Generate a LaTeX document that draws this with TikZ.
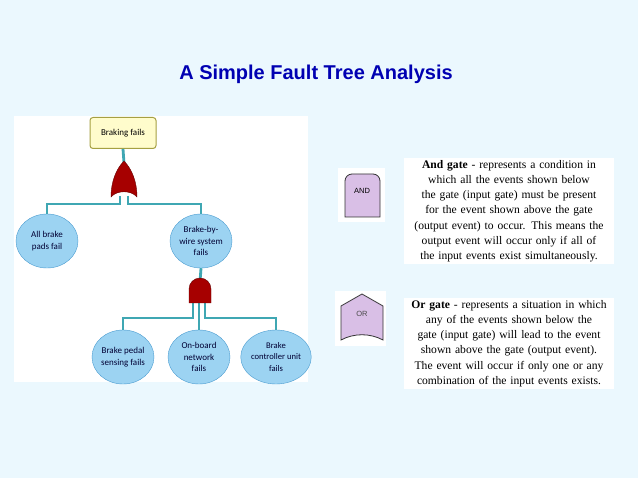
\documentclass[tikz,border=0pt]{standalone}
\usepackage{fontspec}
\setmainfont{Liberation Serif}
\newfontfamily\sansf{Liberation Sans}
\newfontfamily\carl{Carlito}
\usetikzlibrary{shapes.geometric}
\definecolor{evfill}{HTML}{9CD3F2}
\definecolor{evdraw}{HTML}{4A9CD0}
\definecolor{wirec}{HTML}{3FA7B3}
\begin{document}
\begin{tikzpicture}[x=1pt,y=-1pt,
  ev/.style={ellipse,draw=evdraw,fill=evfill,minimum width=62pt,minimum height=54pt,inner sep=0pt,align=center,font=\carl\fontsize{9}{11.5}\selectfont,text=blue!20!black},
  wire/.style={draw=wirec,line width=2.8pt},
  gatef/.style={fill=red!65!black,draw=red!40!black,line width=0.4pt},
  symb/.style={fill=blue!20!violet!25,draw=black!80,line width=0.8pt},
  desc/.style={fill=white,text width=206pt,align=center,inner sep=2pt,font=\fontsize{11.6}{15.2}\selectfont}]
\fill[cyan!8] (0,0) rectangle (638,478);
\useasboundingbox (0,0) rectangle (638,478);
\node[font=\sansf\bfseries\fontsize{20}{24}\selectfont,text=blue!70!black] (title) at (316,74) {A Simple Fault Tree Analysis};
\fill[white] (14,116) rectangle (308,382);
% nodes
\node[draw=yellow!60!black,fill=yellow!20,rounded corners=3pt,line width=1pt,minimum width=66pt,minimum height=31pt,font=\carl\fontsize{9}{11}\selectfont] (top) at (123,133) {Braking fails};
\coordinate (og) at (124,163);
\node[ev] (pads) at (47,241) {All brake\\pads fail};
\node[ev] (bbw) at (201,241) {Brake-by-\\wire system\\fails};
\node[ev] (ped) at (123,357) {Brake pedal\\sensing fails};
\node[ev] (net) at (199,357) {On-board\\network\\fails};
\node[ev,font=\carl\fontsize{8.6}{11.5}\selectfont] (ecu) at (276,357) {Brake\\controller unit\\fails};
% wires
\draw[wire] (top.south) -- (og);
\draw[wire] (120,196) -- (120,204) -| (pads.north);
\draw[wire] (128,196) -- (128,204) -| (bbw.north);
\draw[wire] (bbw.south) -- (200,282);
\draw[wire] (193,302) -- (193,318) -| (ped.north);
\draw[wire] (199,302) -- (net.north);
\draw[wire] (205,302) -- (205,318) -| (ecu.north);
% OR gate
\draw[gatef] (124,161) .. controls (132,169) and (137,182) .. (137,197) .. controls (131,190) and (117,190) .. (111,197) .. controls (111,182) and (116,169) .. (124,161) -- cycle;
% AND gate
\draw[gatef] (189,303) -- (189,289) arc[start angle=180,end angle=360,radius=11] -- (211,303) -- cycle;
% legend symbols
\fill[white] (338,168) rectangle (385,222);
\draw[symb] (345,217) -- (345,181) arc[start angle=180,end angle=270,radius=7] -- (373,174) arc[start angle=270,end angle=360,radius=7] -- (380,217) -- cycle;
\node[font=\sansf\fontsize{7.5}{8}\selectfont] (andl) at (362,191) {AND};
\fill[white] (335,291) rectangle (386,346);
\draw[symb] (341,340) -- (341,306) -- (362,294) -- (383,306) -- (383,340) .. controls (370,333) and (354,333) .. (341,340) -- cycle;
\node[font=\sansf\fontsize{7.5}{8}\selectfont,text=black!70] (orl) at (362,314) {OR};
% descriptions
\node[desc,anchor=north] (andd) at (509,158) {\textbf{And gate} - represents a condition in which all the events shown below the gate (input gate) must be present for the event shown above the gate (output event) to occur. This means the output event will occur only if all of the input events exist simultaneously.};
\node[desc,anchor=north] (ord) at (509,298) {\textbf{Or gate} - represents a situation in which any of the events shown below the gate (input gate) will lead to the event shown above the gate (output event). The event will occur if only one or any combination of the input events exists.};
\end{tikzpicture}
\end{document}
